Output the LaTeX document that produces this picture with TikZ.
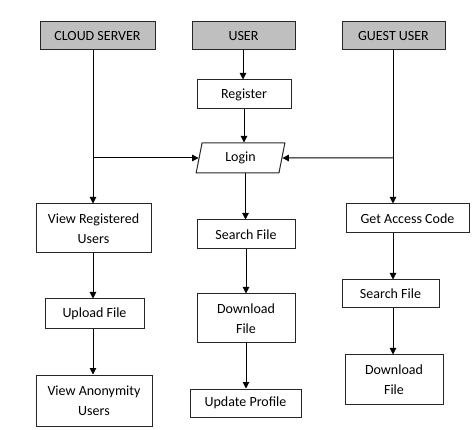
\documentclass[tikz,border=0pt]{standalone}
\usepackage{fontspec}
\setmainfont{Carlito}
\usetikzlibrary{arrows.meta,shapes.geometric}
\begin{document}
\begin{tikzpicture}[x=1pt,y=-1pt,
  every node/.style={font=\fontsize{14}{19.5}\selectfont, text=black, inner sep=0pt, align=center},
  box/.style={draw=black!85, line width=1pt, rectangle},
  head/.style={box, fill=black!25},
  arr/.style={draw=black, line width=1pt, -{Triangle[length=6.5pt,width=6.5pt]}},
  ln/.style={draw=black, line width=1pt}]
\useasboundingbox (0,0) rectangle (474,430);
% headers
\node[head, minimum width=115pt, minimum height=28pt] (cs) at (97.5,36) {CLOUD SERVER};
\node[head, minimum width=103pt, minimum height=28pt] (user) at (243.5,36) {USER};
\node[head, minimum width=103pt, minimum height=28pt] (guest) at (393.5,36) {GUEST USER};
% user column
\node[box, minimum width=94pt, minimum height=29pt] (reg) at (244,94.5) {Register};
\node[draw=black!85, line width=1pt, trapezium, trapezium left angle=79, trapezium right angle=101,
      trapezium stretches=true, minimum width=89pt, minimum height=30pt] (login) at (240.5,158) {Login};
\node[box, minimum width=98pt, minimum height=29pt] (sf) at (246,234.5) {Search File};
\node[box, minimum width=98pt, minimum height=49pt] (df) at (246,318.5) {Download\\File};
\node[box, minimum width=111pt, minimum height=28pt] (up) at (245.5,403) {Update Profile};
% cloud column
\node[box, minimum width=115pt, minimum height=49pt] (vru) at (93.5,228.5) {View Registered\\Users};
\node[box, minimum width=99pt, minimum height=30pt] (upl) at (94.5,314) {Upload File};
\node[box, minimum width=116pt, minimum height=51pt] (vau) at (94,400.5) {View Anonymity\\Users};
% guest column
\node[box, minimum width=123pt, minimum height=29pt] (gac) at (407.5,218.5) {Get Access Code};
\node[box, minimum width=97pt, minimum height=28pt] (gsf) at (390.5,294) {Search File};
\node[box, minimum width=98pt, minimum height=49pt] (gdf) at (394,379.5) {Download\\File};
% junctions
\coordinate (ctop) at (93,50);
\coordinate (cj) at (93,158);
\coordinate (gtop) at (393,50);
\coordinate (gj) at (393,158);
% connectors
\draw[arr] (user.south -| 243,0) -- (reg.north -| 243,0);
\draw[arr] (reg.south -| 244,0) -- (login.north -| 244,0);
\draw[arr] (login.south -| 245.5,0) -- (sf.north -| 245.5,0);
\draw[arr] (sf) -- (df);
\draw[arr] (df) -- (up.north -| df);
\draw[arr] (ctop) -- (vru.north -| ctop);
\draw[arr] (cj) -- (login);
\draw[arr] (vru.south -| ctop) -- (upl.north -| ctop);
\draw[arr] (upl.south -| ctop) -- (vau.north -| ctop);
\draw[arr] (gtop) -- (gac.north -| gtop);
\draw[arr] (gj) -- (login);
\draw[arr] (gac.south -| gtop) -- (gsf.north -| gtop);
\draw[arr] (gsf.south -| gtop) -- (gdf.north -| gtop);
\end{tikzpicture}
\end{document}
